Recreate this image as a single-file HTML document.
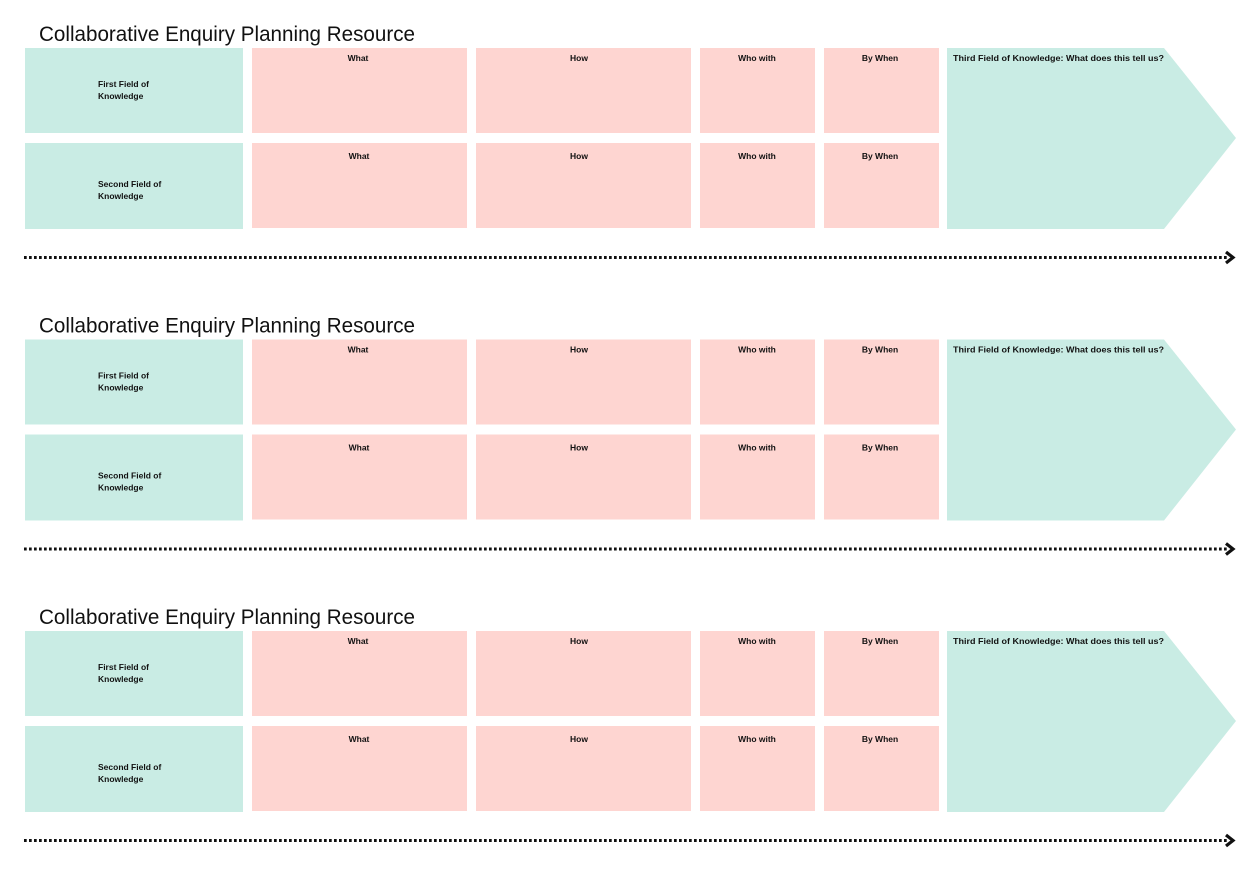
<!DOCTYPE html>
<html><head><style>
html,body{margin:0;padding:0;background:#fff;}
svg{display:block;}
text{font-family:"Liberation Sans",sans-serif;fill:#111;}
.t{font-size:21px;}
.s{font-size:8.5px;font-weight:bold;}
</style></head><body>
<svg width="1260" height="891" viewBox="0 0 1260 891">
<defs>
<g id="blk">
<text class="t" x="39" y="41" textLength="376" lengthAdjust="spacingAndGlyphs">Collaborative Enquiry Planning Resource</text>
<rect x="25" y="48" width="218" height="85" fill="#c9ece4"/>
<rect x="25" y="143" width="218" height="86" fill="#c9ece4"/>
<rect x="252" y="48" width="215" height="85" fill="#fed5d1"/>
<rect x="476" y="48" width="215" height="85" fill="#fed5d1"/>
<rect x="700" y="48" width="115" height="85" fill="#fed5d1"/>
<rect x="824" y="48" width="115" height="85" fill="#fed5d1"/>
<rect x="252" y="143" width="215" height="85" fill="#fed5d1"/>
<rect x="476" y="143" width="215" height="85" fill="#fed5d1"/>
<rect x="700" y="143" width="115" height="85" fill="#fed5d1"/>
<rect x="824" y="143" width="115" height="85" fill="#fed5d1"/>
<polygon points="947,48 1164,48 1236,138 1164,229 947,229" fill="#c9ece4"/>
<text class="s" x="98" y="87">First Field of</text>
<text class="s" x="98" y="99">Knowledge</text>
<text class="s" x="98" y="187">Second Field of</text>
<text class="s" x="98" y="199">Knowledge</text>
<text class="s" x="358" y="61" text-anchor="middle">What</text>
<text class="s" x="579" y="61" text-anchor="middle">How</text>
<text class="s" x="757" y="61" text-anchor="middle">Who with</text>
<text class="s" x="880" y="61" text-anchor="middle">By When</text>
<text class="s" x="359" y="159" text-anchor="middle">What</text>
<text class="s" x="579" y="159" text-anchor="middle">How</text>
<text class="s" x="757" y="159" text-anchor="middle">Who with</text>
<text class="s" x="880" y="159" text-anchor="middle">By When</text>
<text class="s" x="953" y="61" textLength="211" lengthAdjust="spacingAndGlyphs">Third Field of Knowledge: What does this tell us?</text>
<line x1="24" y1="257.5" x2="1227" y2="257.5" stroke="#111" stroke-width="3" stroke-dasharray="2.7 2.3"/>
<polyline points="1226,252 1233,257.5 1226,263" fill="none" stroke="#111" stroke-width="3.2"/>
</g>
</defs>
<use href="#blk"/>
<use href="#blk" y="291.5"/>
<use href="#blk" y="583"/>
</svg>
</body></html>
